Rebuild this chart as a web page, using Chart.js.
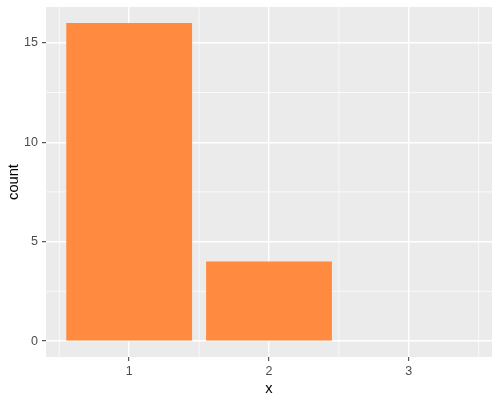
<!DOCTYPE html>
<html>
<head>
<meta charset="utf-8">
<script src="https://cdn.jsdelivr.net/npm/chart.js@4/dist/chart.umd.min.js"></script>
<style>
  html, body { margin: 0; padding: 0; background: #fff; }
  #wrap { width: 500px; height: 402px; }
</style>
</head>
<body>
<div id="wrap"><canvas id="barChart" width="500" height="402"></canvas></div>
<script>
// data
const categories = [1, 2, 3];
const counts = [16, 4, 0];
const xTicks = [1, 2, 3];
const xMinor = [0.5, 1.5, 2.5, 3.5];
const yTicks = [0, 5, 10, 15];
const yMinor = [2.5, 7.5, 12.5];

// ggplot style limits: bar width 0.9 plus 5% expansion
const barWidth = 0.9;
const xLo = Math.min(...categories) - barWidth / 2;
const xHi = Math.max(...categories) + barWidth / 2;
const xPad = (xHi - xLo) * 0.05;
const yLo = Math.min(0, ...counts);
const yHi = Math.max(...counts);
const yPad = (yHi - yLo) * 0.05;

const panelBg = {
  id: 'panelBg',
  beforeDraw(chart) {
    const { ctx, chartArea: a } = chart;
    ctx.save();
    ctx.fillStyle = '#EBEBEB';
    ctx.fillRect(a.left, a.top, a.right - a.left, a.bottom - a.top);
    ctx.restore();
  },
  // minor grid lines, drawn under the bars
  beforeDatasetsDraw(chart) {
    const { ctx, chartArea: a, scales } = chart;
    ctx.save();
    ctx.strokeStyle = '#FFFFFF';
    ctx.lineWidth = 0.7;
    ctx.beginPath();
    xMinor.forEach((v) => {
      const px = scales.x.getPixelForValue(v);
      ctx.moveTo(px, a.top);
      ctx.lineTo(px, a.bottom);
    });
    yMinor.forEach((v) => {
      const py = scales.y.getPixelForValue(v);
      ctx.moveTo(a.left, py);
      ctx.lineTo(a.right, py);
    });
    ctx.stroke();
    ctx.restore();
  },
};

const tickFont = { family: 'Liberation Sans, Arial, sans-serif', size: 12.5 };
const titleFont = { family: 'Liberation Sans, Arial, sans-serif', size: 14.67 };

const ctx = document.getElementById('barChart').getContext('2d');
new Chart(ctx, {
  type: 'bar',
  data: {
    datasets: [{
      label: 'count',
      data: categories.map((c, i) => ({ x: c, y: counts[i] })),
      backgroundColor: '#FF8A40',
      borderWidth: 0,
      barPercentage: barWidth,
      categoryPercentage: 1,
    }],
  },
  plugins: [panelBg],
  options: {
    responsive: false,
    animation: false,
    layout: { padding: { top: 7, right: 8, left: 0, bottom: 0 } },
    plugins: {
      legend: { display: false },
      tooltip: { enabled: false },
    },
    scales: {
      x: {
        type: 'linear',
        offset: false,
        min: xLo - xPad,
        max: xHi + xPad,
        afterBuildTicks: (scale) => { scale.ticks = xTicks.map((v) => ({ value: v })); },
        afterFit: (scale) => {
          scale.height = 45;
          scale.paddingLeft = 0;
          scale.paddingRight = 0;
        },
        border: { display: false },
        grid: {
          offset: false,
          color: '#FFFFFF',
          lineWidth: 1.4,
          tickColor: '#333333',
          tickLength: 4,
          tickWidth: 1,
        },
        ticks: {
          color: '#4D4D4D',
          font: tickFont,
          padding: 3,
          autoSkip: false,
          maxRotation: 0,
          callback: (v) => String(v),
        },
        title: {
          display: true,
          text: 'x',
          color: '#000000',
          font: titleFont,
          padding: { top: 0, bottom: 4 },
        },
      },
      y: {
        type: 'linear',
        min: yLo - yPad,
        max: yHi + yPad,
        afterBuildTicks: (scale) => { scale.ticks = yTicks.map((v) => ({ value: v })); },
        afterFit: (scale) => {
          scale.width = 46;
          scale.paddingTop = 0;
          scale.paddingBottom = 0;
        },
        border: { display: false },
        grid: {
          color: '#FFFFFF',
          lineWidth: 1.4,
          tickColor: '#333333',
          tickLength: 4,
          tickWidth: 1,
        },
        ticks: {
          color: '#4D4D4D',
          font: tickFont,
          padding: 4,
          autoSkip: false,
          callback: (v) => String(v),
        },
        title: {
          display: true,
          text: 'count',
          color: '#000000',
          font: titleFont,
          padding: { top: 5, bottom: 0 },
        },
      },
    },
  },
});
</script>
</body>
</html>
